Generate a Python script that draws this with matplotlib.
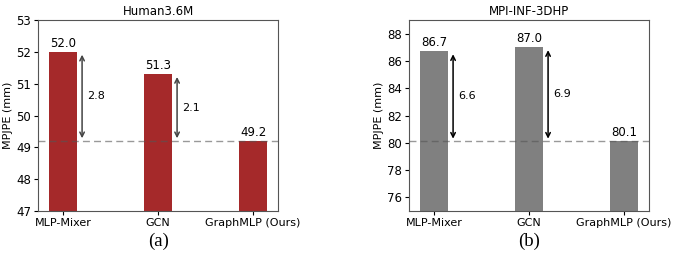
import numpy as np
import matplotlib
matplotlib.use('Agg')
import matplotlib.pyplot as plt

methods = ['MLP-Mixer', 'GCN', 'GraphMLP (Ours)']
h36m = [52.0, 51.3, 49.2]
mpi = [86.7, 87.0, 80.1]
titles = ['Human3.6M', 'MPI-INF-3DHP']
captions = ['(a)', '(b)']
colors = ['#A5292A', '#808080']
arrow_colors = ['#444444', 'black']
ylims = [(47, 53), (75, 89)]
yticks = [np.arange(47, 54, 1), np.arange(76, 89, 2)]

plt.rcParams['font.family'] = ['DejaVu Sans']
plt.rcParams['font.size'] = 8

fig = plt.figure(figsize=(6.77, 2.54), dpi=100)
axes = [fig.add_axes([0.056, 0.169, 0.355, 0.752]),
        fig.add_axes([0.604, 0.169, 0.355, 0.752])]

for i, (ax, vals) in enumerate(zip(axes, [h36m, mpi])):
    x = np.arange(len(methods))
    ax.bar(x, vals, width=0.3, color=colors[i], zorder=1)
    ax.set_ylim(*ylims[i])
    ax.set_yticks(yticks[i])
    ax.set_xticks(x)
    ax.set_xticklabels(methods)
    ax.set_ylabel('MPJPE (mm)', labelpad=2)
    ax.set_title(titles[i], fontsize=8.5, pad=4)
    ours = vals[-1]
    ax.axhline(ours, color='#555555', linestyle=(0, (5, 3)), linewidth=1, alpha=0.6, zorder=2)
    for j, v in enumerate(vals):
        ax.text(j, v + (ylims[i][1] - ylims[i][0]) * 0.012, '%.1f' % v,
                ha='center', va='bottom', fontsize=8.5)
    for j, v in enumerate(vals[:-1]):
        ax.annotate('', xy=(j + 0.2, v), xytext=(j + 0.2, ours),
                    arrowprops=dict(arrowstyle='<->', color=arrow_colors[i], lw=1.1))
        ax.text(j + 0.25, (v + ours) / 2, '%.1f' % (v - ours),
                ha='left', va='center')
    for s in ax.spines.values():
        s.set_color('#555555')
    ax.tick_params(length=3, pad=2)
    ax.tick_params(axis='y', labelsize=8.5)
    fig.text((ax.get_position().x0 + ax.get_position().x1) / 2, 0.015, captions[i],
             ha='center', va='bottom', family='Liberation Serif', fontsize=13.5)

plt.savefig('out.png', dpi=100)
